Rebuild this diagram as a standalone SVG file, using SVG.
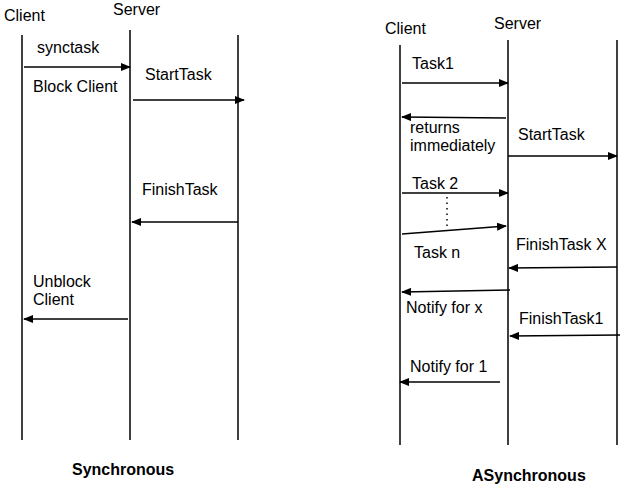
<svg xmlns="http://www.w3.org/2000/svg" width="630" height="493" viewBox="0 0 630 493">
<defs><marker id="ah" markerWidth="10" markerHeight="8" refX="9" refY="4" orient="auto" markerUnits="userSpaceOnUse"><path d="M0,0 L10,4 L0,8 z" fill="#000"/></marker></defs>
<style>text{font-family:"Liberation Sans",Arial,sans-serif;font-size:16px;fill:#000}.b{font-weight:bold}.l{stroke:#000;stroke-width:1.5;fill:none}.a{stroke:#000;stroke-width:1.3;marker-end:url(#ah)}</style>
<rect width="630" height="493" fill="#fff"/>
<g id="lifelines">
<line class="l" x1="22" y1="35" x2="22" y2="440"/>
<line class="l" x1="130" y1="30" x2="130" y2="440"/>
<line class="l" x1="238" y1="35" x2="238" y2="440"/>
<line class="l" x1="400" y1="45" x2="400" y2="445"/>
<line class="l" x1="508" y1="40" x2="508" y2="445"/>
<line class="l" x1="617" y1="40" x2="617" y2="445"/>
</g>
<g id="connectors">
<line class="a" x1="24" y1="67" x2="130" y2="67"/>
<line class="a" x1="133" y1="100" x2="244" y2="100"/>
<line class="a" x1="238" y1="222" x2="132" y2="222"/>
<line class="a" x1="128" y1="319" x2="24" y2="319"/>
<line class="a" x1="402" y1="83" x2="508" y2="83"/>
<line class="a" x1="506" y1="118" x2="402" y2="117"/>
<line class="a" x1="508" y1="156" x2="617" y2="156"/>
<line class="a" x1="402" y1="193" x2="508" y2="193"/>
<line x1="447" y1="197" x2="447" y2="226" stroke="#000" stroke-width="1.5" stroke-dasharray="1.5,4"/>
<line class="a" x1="402" y1="234" x2="506" y2="226"/>
<line class="a" x1="617" y1="267" x2="509" y2="268"/>
<line class="a" x1="510" y1="290" x2="402" y2="292"/>
<line class="a" x1="620" y1="335" x2="510" y2="336"/>
<line class="a" x1="500" y1="382" x2="400" y2="382"/>
</g>
<g id="labels">
<text x="4" y="21">Client</text><text x="113" y="15">Server</text>
<text x="385" y="34">Client</text><text x="494" y="29">Server</text>
<text x="37" y="53">synctask</text><text x="33" y="92">Block Client</text>
<text x="145" y="80">StartTask</text><text x="142" y="195">FinishTask</text>
<text x="33" y="287">Unblock</text><text x="33" y="305">Client</text>
<text x="412" y="69">Task1</text><text x="410" y="133">returns</text><text x="410" y="151">immediately</text>
<text x="518" y="140">StartTask</text><text x="412" y="189">Task 2</text><text x="414" y="258">Task n</text>
<text x="516" y="250">FinishTask X</text><text x="406" y="313">Notify for x</text>
<text x="519" y="324">FinishTask1</text><text x="410" y="372">Notify for 1</text>
<text class="b" x="72" y="475">Synchronous</text><text class="b" x="472" y="481">ASynchronous</text>
</g>
</svg>
